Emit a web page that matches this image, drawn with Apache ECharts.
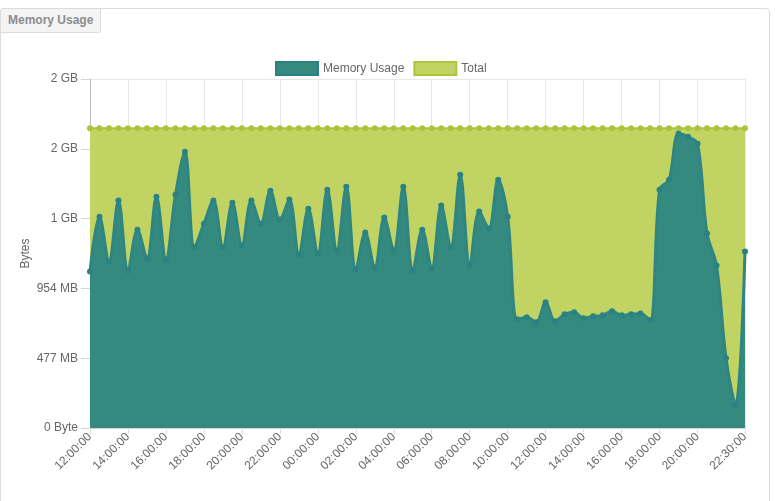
<!DOCTYPE html>
<html lang="en">

<head>
  <meta charset="UTF-8">
  <title>Memory Usage</title>
  <style>
    body {
      margin: 0;
      background-color: #fff;
      font-family: "Liberation Sans", Arial, sans-serif;
    }

    .panel {
      position: absolute;
      left: 0;
      top: 8px;
      width: 770px;
      height: 520px;
      border: 1px solid #dcdcdc;
      border-radius: 4px;
      box-sizing: border-box;
    }

    .tab {
      position: absolute;
      left: 0;
      top: 8px;
      padding: 4px 7px 5px 7px;
      background-color: #f4f4f4;
      border: 1px solid #dcdcdc;
      border-radius: 3px 0 3px 0;
      font-size: 12px;
      font-weight: bold;
      color: #8c8c8c;
    }

    .chart {
      position: absolute;
      left: 0;
      top: 0;
      width: 775px;
      height: 501px;
    }
  </style>
</head>

<body>
  <div class="panel"></div>
  <div class="chart"></div>
  <div class="tab">Memory Usage</div>
  <script src="https://cdn.jsdelivr.net/npm/echarts@6/dist/echarts.min.js"></script>
  <script>
    // 30 minute samples
    const times = [
      '12:00:00', '12:30:00', '13:00:00', '13:30:00', '14:00:00', '14:30:00', '15:00:00', '15:30:00',
      '16:00:00', '16:30:00', '17:00:00', '17:30:00', '18:00:00', '18:30:00', '19:00:00', '19:30:00',
      '20:00:00', '20:30:00', '21:00:00', '21:30:00', '22:00:00', '22:30:00', '23:00:00', '23:30:00',
      '00:00:00', '00:30:00', '01:00:00', '01:30:00', '02:00:00', '02:30:00', '03:00:00', '03:30:00',
      '04:00:00', '04:30:00', '05:00:00', '05:30:00', '06:00:00', '06:30:00', '07:00:00', '07:30:00',
      '08:00:00', '08:30:00', '09:00:00', '09:30:00', '10:00:00', '10:30:00', '11:00:00', '11:30:00',
      '12:00:00', '12:30:00', '13:00:00', '13:30:00', '14:00:00', '14:30:00', '15:00:00', '15:30:00',
      '16:00:00', '16:30:00', '17:00:00', '17:30:00', '18:00:00', '18:30:00', '19:00:00', '19:30:00',
      '20:00:00', '20:30:00', '21:00:00', '21:30:00', '22:00:00', '22:30:00'
    ]

    // memory used, in MB (1e6 bytes)
    const memoryMB = [
      1121, 1514, 1193, 1629, 1129, 1421, 1214, 1657, 1207, 1671,
      1979, 1293, 1464, 1629, 1293, 1614, 1307, 1629, 1464, 1700,
      1493, 1636, 1243, 1571, 1250, 1707, 1271, 1729, 1136, 1400,
      1150, 1507, 1271, 1729, 1129, 1421, 1143, 1593, 1293, 1814,
      1164, 1550, 1429, 1779, 1514, 779, 793, 757, 900, 764,
      814, 829, 786, 800, 807, 836, 807, 814, 821, 771,
      1707, 1779, 2107, 2086, 2036, 1393, 1164, 500, 164, 1264
    ]

    // total memory (2 GiB)
    const totalBytes = 2147483648

    const yTicks = [0, 500000000, 1000000000, 1500000000, 2000000000, 2500000000]

    const bytesLabel = v => {
      if (v === 0) return '0 Byte'
      const units = ['Bytes', 'KB', 'MB', 'GB', 'TB']
      const i = Math.floor(Math.log(v) / Math.log(1024))
      return Math.round(v / Math.pow(1024, i)) + ' ' + units[i]
    }

    const showTick = i => (i % 4 === 0 && i <= 64) || i === times.length - 1

    const option = {
      animation: false,
      tooltip: { trigger: 'axis' },
      legend: {
        top: 56,
        left: 270,
        icon: 'rect',
        itemWidth: 42,
        itemHeight: 13,
        itemGap: 9,
        textStyle: { fontSize: 12, color: '#666', fontFamily: 'Liberation Sans' },
        data: [
          { name: 'Memory Usage', itemStyle: { color: '#358a80', borderColor: '#2b8080', borderWidth: 2 } },
          { name: 'Total', itemStyle: { color: '#c1d463', borderColor: '#abc43c', borderWidth: 2 } }
        ]
      },
      grid: {
        left: 90,
        right: 30,
        top: 79,
        bottom: 73
      },
      xAxis: {
        type: 'category',
        boundaryGap: false,
        data: times,
        axisLine: { lineStyle: { color: '#d6d6d6' } },
        axisTick: { show: true, length: 6, interval: showTick, lineStyle: { color: '#e2e2e2' } },
        splitLine: { show: true, interval: showTick, lineStyle: { color: '#e8e8e8' } },
        axisLabel: {
          interval: showTick,
          rotate: 45,
          margin: 7,
          fontSize: 12,
          color: '#666',
          fontFamily: 'Liberation Sans'
        }
      },
      yAxis: {
        type: 'value',
        min: yTicks[0],
        max: yTicks[yTicks.length - 1],
        interval: yTicks[1] - yTicks[0],
        name: 'Bytes',
        nameLocation: 'middle',
        nameGap: 58,
        nameMoveOverlap: false,
        nameTextStyle: { fontSize: 12, color: '#666', fontFamily: 'Liberation Sans' },
        axisLine: { show: true, lineStyle: { color: '#bdbdbd' } },
        axisTick: { show: true, inside: false, length: 9, lineStyle: { color: '#d6d6d6' } },
        splitLine: { lineStyle: { color: '#e8e8e8' } },
        axisLabel: {
          margin: 12,
          fontSize: 12,
          color: '#666',
          fontFamily: 'Liberation Sans',
          formatter: bytesLabel
        }
      },
      series: [
        {
          name: 'Memory Usage',
          type: 'line',
          z: 4,
          smooth: 0.35,
          symbol: 'circle',
          symbolSize: 6,
          showAllSymbol: true,
          data: memoryMB.map(v => v * 1e6),
          itemStyle: { color: '#2b8282' },
          lineStyle: { color: '#2e8581', width: 3 },
          areaStyle: { color: '#358a80', opacity: 1 }
        },
        {
          name: 'Total',
          type: 'line',
          z: 2,
          symbol: 'circle',
          symbolSize: 6,
          showAllSymbol: true,
          data: times.map(() => totalBytes),
          itemStyle: { color: '#abc43c' },
          lineStyle: { color: '#abc43c', width: 2 },
          areaStyle: { color: '#c1d463', opacity: 1 }
        }
      ]
    }

    const myChart = echarts.init(document.querySelector('.chart'))
    myChart.setOption(option)
  </script>
</body>

</html>
